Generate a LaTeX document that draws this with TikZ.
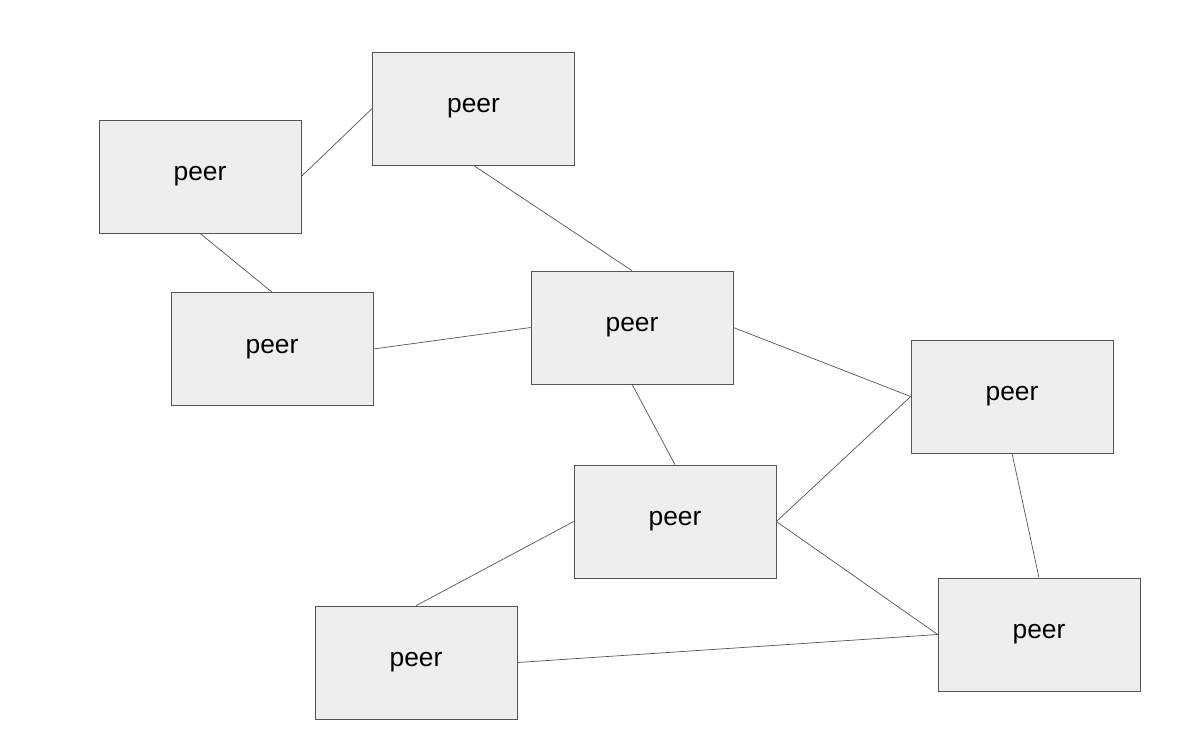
\documentclass[tikz,border=0pt]{standalone}
\usepackage{fontspec}
\setmainfont{Liberation Sans}
\usepackage{xcolor}
\definecolor{peerfill}{HTML}{EEEEEE}
\definecolor{peerline}{HTML}{555555}
\tikzset{peerbox/.style={draw=peerline, fill=peerfill, minimum width=4.04cm, minimum height=2.26cm, font=\fontsize{15}{18}\selectfont},
  link/.style={draw=peerline, thin}}

\begin{document}
\begin{tikzpicture}
      \useasboundingbox (0,0) rectangle (24,-15);
      \node[peerbox] (pa) at (9.47,-2.17) {peer};
      \node[peerbox] (pb) at (4.00,-3.53) {peer};
      \node[peerbox] (pc) at (5.44,-6.98) {peer};
      \node[peerbox] (pd) at (12.64,-6.55) {peer};
      \node[peerbox] (pe) at (20.24,-7.93) {peer};
      \node[peerbox] (pf) at (13.50,-10.43) {peer};
      \node[peerbox] (pg) at (8.32,-13.25) {peer};
      \node[peerbox] (ph) at (20.78,-12.69) {peer};
      \draw[link] (pb.east) -- (pa.west);
      \draw[link] (pb.south) -- (pc.north);
      \draw[link] (pc.east) -- (pd.west);
      \draw[link] (pa.south) -- (pd.north);
      \draw[link] (pd.east) -- (pe.west);
      \draw[link] (pd.south) -- (pf.north);
      \draw[link] (pf.east) -- (pe.west);
      \draw[link] (pf.west) -- (pg.north);
      \draw[link] (pf.east) -- (ph.west);
      \draw[link] (pg.east) -- (ph.west);
      \draw[link] (pe.south) -- (ph.north);
    \end{tikzpicture}
\end{document}
